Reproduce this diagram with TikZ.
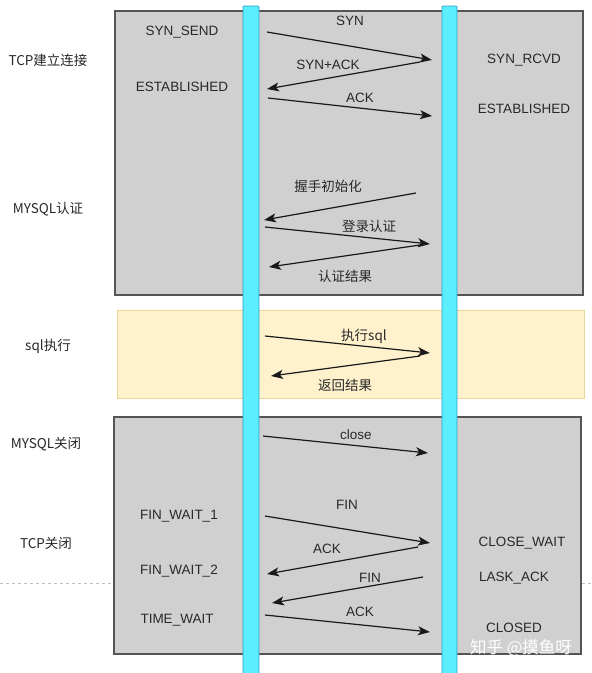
\documentclass[tikz,border=0pt]{standalone}
\usepackage{fontspec}
\setmainfont{Liberation Sans}
\newfontfamily\cjk{Noto Sans CJK SC}
\usetikzlibrary{arrows.meta}
\definecolor{boxgray}{RGB}{208,208,208}
\definecolor{boxedge}{RGB}{85,85,85}
\definecolor{sqlfill}{RGB}{255,241,204}
\definecolor{sqledge}{RGB}{236,214,150}
\definecolor{barfill}{RGB}{90,238,255}
\definecolor{baredge}{RGB}{50,160,200}
\definecolor{txt}{RGB}{40,40,40}
\begin{document}
\begin{tikzpicture}[x=1pt,y=-1pt,
  phase/.style={draw=boxedge,line width=1.3pt,fill=boxgray},
  bar/.style={draw=baredge,line width=0.8pt,fill=barfill},
  lbl/.style={text=txt,font=\fontsize{13.5}{15}\selectfont,inner sep=0pt},
  side/.style={text=txt,font=\fontsize{13.5}{15}\selectfont\cjk,inner sep=0pt},
  msg/.style={draw=black!90,line width=1.2pt,-{Stealth[length=12pt,width=9pt,inset=3pt]}}]
\useasboundingbox (0,0) rectangle (592,673);
\fill[white] (0,0) rectangle (592,673);
% dashed separator
\draw[gray!50,dashed,line width=0.8pt] (0,583) -- (592,583);
% phase boxes
\draw[phase] (115,11) rectangle (583,295);
\draw[draw=sqledge,line width=0.8pt,fill=sqlfill] (117,310) rectangle (584,398);
\draw[phase] (114,417) rectangle (581,654);
% lifelines
\draw[bar,rounded corners=1pt] (243,6) rectangle (259,680);
\draw[bar,rounded corners=1pt] (442,6) rectangle (457,680);
% side labels
\node[side] (p1) at (48,60) {TCP建立连接};
\node[side] (p2) at (48,209) {MYSQL认证};
\node[side] (p3) at (48,346) {sql执行};
\node[side] (p4) at (46,444) {MYSQL关闭};
\node[side] (p5) at (46,543) {TCP关闭};
% client states
\node[lbl] (c1) at (182,32) {SYN\_SEND};
\node[lbl] (c2) at (182,87) {ESTABLISHED};
\node[lbl] (c3) at (179,516) {FIN\_WAIT\_1};
\node[lbl] (c4) at (179,571) {FIN\_WAIT\_2};
\node[lbl] (c5) at (177,620) {TIME\_WAIT};
% server states
\node[lbl] (s1) at (524,60) {SYN\_RCVD};
\node[lbl] (s2) at (524,109) {ESTABLISHED};
\node[lbl] (s3) at (522,543) {CLOSE\_WAIT};
\node[lbl] (s4) at (514,578) {LASK\_ACK};
\node[lbl] (s5) at (514,628) {CLOSED};
% message endpoints
\coordinate (a1s) at (267,32);  \coordinate (a1e) at (432,60);
\coordinate (a2s) at (420,62);  \coordinate (a2e) at (267,89);
\coordinate (a3s) at (268,98);  \coordinate (a3e) at (432,116);
\coordinate (a4s) at (416,193); \coordinate (a4e) at (264,220);
\coordinate (a5s) at (265,227); \coordinate (a5e) at (430,244);
\coordinate (a6s) at (420,245); \coordinate (a6e) at (269,267);
\coordinate (a7s) at (265,336); \coordinate (a7e) at (430,353);
\coordinate (a8s) at (420,356); \coordinate (a8e) at (271,376);
\coordinate (a9s) at (263,436); \coordinate (a9e) at (428,453);
\coordinate (b1s) at (265,516); \coordinate (b1e) at (430,543);
\coordinate (b2s) at (418,547); \coordinate (b2e) at (267,574);
\coordinate (b3s) at (423,577); \coordinate (b3e) at (272,603);
\coordinate (b4s) at (265,615); \coordinate (b4e) at (430,632);
\draw[msg] (a1s) -- (a1e);
\draw[msg] (a2s) -- (a2e);
\draw[msg] (a3s) -- (a3e);
\draw[msg] (a4s) -- (a4e);
\draw[msg] (a5s) -- (a5e);
\draw[msg] (a6s) -- (a6e);
\draw[msg] (a7s) -- (a7e);
\draw[msg] (a8s) -- (a8e);
\draw[msg] (a9s) -- (a9e);
\draw[msg] (b1s) -- (b1e);
\draw[msg] (b2s) -- (b2e);
\draw[msg] (b3s) -- (b3e);
\draw[msg] (b4s) -- (b4e);
% message labels
\node[lbl] (m1) at (350,21) {SYN};
\node[lbl] (m2) at (328,65) {SYN+ACK};
\node[lbl] (m3) at (360,98) {ACK};
\node[side] (m4) at (328,186) {握手初始化};
\node[side] (m5) at (369,226) {登录认证};
\node[side] (m6) at (345,276) {认证结果};
\node[side] (m7) at (364,336) {执行sql};
\node[side] (m8) at (345,385) {返回结果};
\node[lbl] (m9) at (356,435) {close};
\node[lbl] (m10) at (347,505) {FIN};
\node[lbl] (m11) at (327,549) {ACK};
\node[lbl] (m12) at (370,578) {FIN};
\node[lbl] (m13) at (360,612) {ACK};
% watermark
\node[text=white,font=\fontsize{16.5}{18}\selectfont\cjk,inner sep=0pt] (wm) at (521,648) {知乎 @摸鱼呀};
\end{tikzpicture}
\end{document}
